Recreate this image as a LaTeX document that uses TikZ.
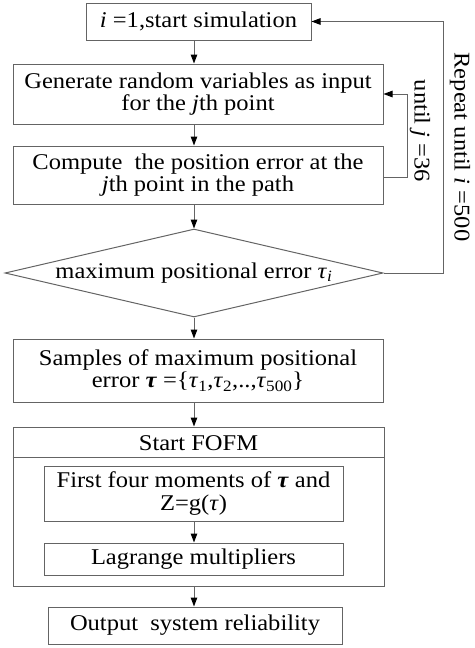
\documentclass[tikz,border=0pt]{standalone}
\usepackage{fontspec}
\setmainfont[FakeStretch=1.09]{Liberation Serif}
\usetikzlibrary{arrows.meta,shapes.geometric,positioning}
\definecolor{lnc}{RGB}{100,100,100}
\newcommand{\tu}{\textit{τ}}
\newcommand{\btu}{\textbf{\textit{τ}}}

\begin{document}
\begin{tikzpicture}[x=1pt, y=-1pt,
  font=\fontsize{22.5}{22.5}\selectfont,
  box/.style={draw=lnc, line width=1pt, rectangle, align=center, inner sep=1pt},
  dia/.style={draw=lnc, line width=1pt, diamond, aspect=4.3, inner sep=0pt},
  arr/.style={draw=lnc, line width=1pt, -{Triangle[length=9pt,width=6.5pt,black]}},
  lin/.style={draw=lnc, line width=1pt}]
\useasboundingbox (0,0) rectangle (474,648);
% main column
\node[box, minimum width=225pt, minimum height=37pt] (start) at (198.5,21.5) {\textit{i} =1,start simulation};
\node[box, minimum width=370pt, minimum height=60pt, font=\fontsize{22.5}{20}\selectfont] (gen) at (198,94) {Generate random variables as input\\for the \textit{j}th point};
\node[box, minimum width=370pt, minimum height=58pt] (comp) at (198,175) {Compute\ \ the position error at the\\\textit{j}th point in the path};
\node[dia, minimum width=378pt, minimum height=88pt] (dm) at (194,273) {maximum positional error \tu\textsubscript{\textit{i}}};
\node[box, minimum width=370pt, minimum height=63pt] (samp) at (198,370.5) {Samples of maximum positional\\error \btu\ =\{\tu\textsubscript{1},\tu\textsubscript{2},..,\tu\textsubscript{500}\}};
% FOFM block
\node[box, minimum width=371pt, minimum height=159pt] (fofm) at (198.5,506.5) {};
\node (fofmt) at (198.5,443) {Start FOFM};
\coordinate (dv) at (0,457);
\draw[lin] (fofm.west |- dv) -- (fofm.east |- dv);
\node[box, minimum width=299pt, minimum height=55pt, font=\fontsize{22.5}{23.5}\selectfont] (mom) at (193.5,493.5) {First four moments of \btu\ and\\Z=g(\tu)};
\node[box, minimum width=299pt, minimum height=32pt] (lag) at (193.5,559) {Lagrange multipliers};
\node[box, minimum width=294pt, minimum height=37pt] (out) at (195,625.5) {Output\ \ system reliability};
% arrows
\draw[arr] (start.south -| dm.north) -- (gen.north -| dm.north);
\draw[arr] (gen.south -| dm.north) -- (comp.north -| dm.north);
\draw[arr] (comp.south -| dm.north) -- (dm.north);
\draw[arr] (dm.south) -- (samp.north -| dm.south);
\draw[arr] (samp.south -| dm.south) -- (fofm.north -| dm.south);
\draw[arr] (mom.south -| dm.south) -- (lag.north -| dm.south);
\draw[arr] (fofm.south -| dm.south) -- (out.north -| dm.south);
% loops
\coordinate (jl) at (407,177);
\draw[arr] (comp.east |- jl) -- (jl) |- (gen.east);
\node[rotate=-90] (jlab) at (420,131) {until \textit{j} =36};
\coordinate (il) at (443,273);
\draw[arr] (dm.east) -- (il) |- (start.east);
\node[rotate=-90] (ilab) at (460,147) {Repeat until \textit{i} =500};
\end{tikzpicture}
\end{document}
